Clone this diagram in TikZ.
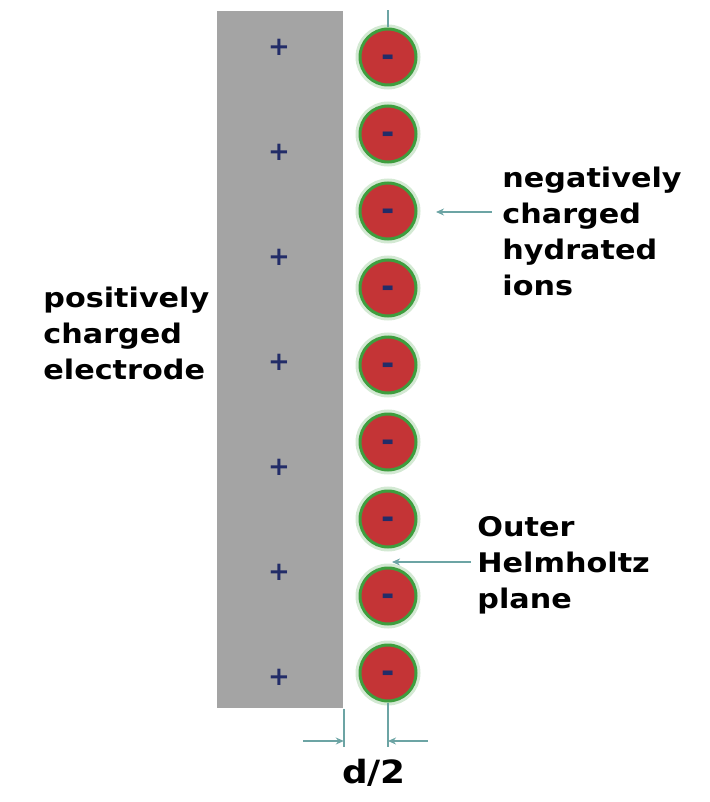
\documentclass[tikz,border=0pt]{standalone}
\usepackage{fontspec}
\setmainfont{DejaVu Sans}
\newfontfamily\anchafont[FakeStretch=1.12]{DejaVu Sans}
\usetikzlibrary{arrows.meta}
\definecolor{grisel}{RGB}{164,164,164}
\definecolor{rojoion}{RGB}{196,52,54}
\definecolor{verdeion}{RGB}{62,158,62}
\definecolor{azulsig}{RGB}{34,44,104}
\definecolor{cian}{RGB}{108,164,164}
\begin{document}
\begin{tikzpicture}[x=0.5pt, y=-0.5pt,
  ion/.style={circle, fill=rojoion, draw=verdeion, line width=1.5pt,
              minimum size=28pt, inner sep=0pt, text=azulsig,
              text height=9.6pt, text depth=0pt,
              font=\bfseries\fontsize{16}{16}\selectfont,
              preaction={draw=verdeion!45, line width=4.5pt, opacity=0.5}},
  mas/.style={text=azulsig, inner sep=0pt, font=\bfseries\fontsize{13}{13}\selectfont},
  etiqueta/.style={align=left, anchor=west, inner sep=0pt,
                   font=\anchafont\bfseries\fontsize{13.5}{18}\selectfont},
  cota/.style={draw=cian, line width=1pt},
  flecha/.style={-{Stealth[length=4pt,width=3.5pt]}, draw=cian, line width=1pt}
]
  \useasboundingbox (0,0) rectangle (710,802);
  % electrode
  \node[fill=grisel, inner sep=0pt, minimum width=63pt, minimum height=348.5pt,
        anchor=north west] (electrodo) at (217,11) {};
  \node[mas] (p1) at (279,47) {+};
  \node[mas] (p2) at (279,152) {+};
  \node[mas] (p3) at (279,257) {+};
  \node[mas] (p4) at (279,362) {+};
  \node[mas] (p5) at (279,467) {+};
  \node[mas] (p6) at (279,572) {+};
  \node[mas] (p7) at (279,677) {+};
  % hydrated ions
  \node[ion] (ion1) at (388,57) {-};
  \node[ion] (ion2) at (388,134) {-};
  \node[ion] (ion3) at (388,211) {-};
  \node[ion] (ion4) at (388,288) {-};
  \node[ion] (ion5) at (388,365) {-};
  \node[ion] (ion6) at (388,442) {-};
  \node[ion] (ion7) at (388,519) {-};
  \node[ion] (ion8) at (388,596) {-};
  \node[ion] (ion9) at (388,673) {-};
  % labels
  \node[etiqueta] (positivo) at (43,333) {positively\\charged\\electrode};
  \node[etiqueta] (negativo) at (502,231) {negatively\\charged\\hydrated\\ions};
  \node[etiqueta] (ohp) at (477,565) {Outer\\Helmholtz\\plane};
  \node[etiqueta, anchor=center, font=\anchafont\bfseries\fontsize{16}{18}\selectfont]
       (dmedio) at (374,773) {d/2};
  % arrows
  \coordinate (colaneg) at (492,212);
  \coordinate (puntaneg) at (436,212);
  \draw[flecha] (colaneg) -- (puntaneg);
  \coordinate (colaohp) at (471,562);
  \coordinate (puntaohp) at (392,562);
  \draw[flecha] (colaohp) -- (puntaohp);
  % d/2 dimension
  \coordinate (topeohp) at (388,10);
  \draw[cota] (ion1.north) -- (topeohp);
  \coordinate (cotaini) at (303,741);
  \coordinate (cotaizq) at (electrodo.south east |- cotaini);
  \coordinate (cotader) at (ion9.south |- cotaini);
  \coordinate (cotafin) at (428,741);
  \draw[cota] (electrodo.south east) -- ++(0,38);
  \draw[cota] (ion9.south) -- ++(0,44);
  \draw[flecha] (cotaini) -- (cotaizq);
  \draw[flecha] (cotafin) -- (cotader);
\end{tikzpicture}
\end{document}
